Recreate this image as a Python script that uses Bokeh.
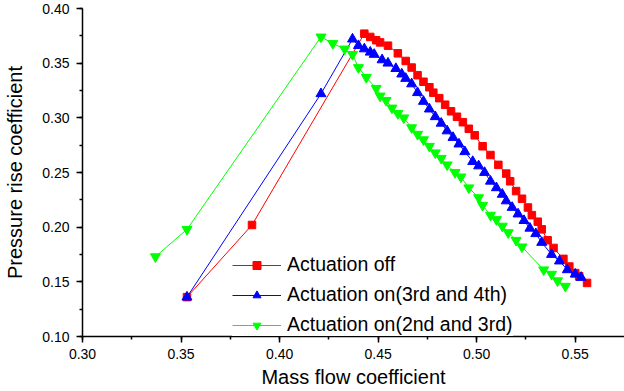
from bokeh.plotting import figure
from bokeh.models import SingleIntervalTicker, NumeralTickFormatter, Range1d
from bokeh.embed import file_html
from bokeh.resources import INLINE

# Actuation off
off_x = [0.353, 0.386, 0.443, 0.446, 0.449, 0.451, 0.455, 0.460, 0.464, 0.467, 0.470,
         0.473, 0.476, 0.478, 0.481, 0.484, 0.487, 0.490, 0.493, 0.496, 0.499,
         0.503, 0.507, 0.511, 0.515, 0.517, 0.520, 0.523, 0.526, 0.528, 0.531,
         0.533, 0.536, 0.539, 0.544, 0.547, 0.550, 0.552, 0.556]
off_y = [0.136, 0.202, 0.377, 0.374, 0.371, 0.369, 0.366, 0.359, 0.352, 0.346, 0.339,
         0.333, 0.328, 0.323, 0.318, 0.312, 0.306, 0.301, 0.296, 0.290, 0.284,
         0.274, 0.266, 0.257, 0.249, 0.242, 0.233, 0.226, 0.218, 0.211, 0.205,
         0.198, 0.188, 0.181, 0.171, 0.164, 0.158, 0.155, 0.149]

# Actuation on (3rd and 4th)
on34_x = [0.353, 0.421, 0.437, 0.440, 0.443, 0.446, 0.448, 0.452, 0.455, 0.459, 0.462,
          0.464, 0.467, 0.470, 0.473, 0.476, 0.479, 0.482, 0.485, 0.488, 0.491,
          0.494, 0.498, 0.501, 0.504, 0.507, 0.510, 0.513, 0.515, 0.518, 0.521,
          0.524, 0.527, 0.530, 0.533, 0.538, 0.542, 0.546, 0.550, 0.553]
on34_y = [0.136, 0.322, 0.372, 0.366, 0.363, 0.360, 0.358, 0.353, 0.350, 0.345, 0.340,
          0.336, 0.331, 0.323, 0.315, 0.308, 0.301, 0.295, 0.288, 0.282, 0.276,
          0.269, 0.260, 0.256, 0.250, 0.242, 0.236, 0.230, 0.224, 0.218, 0.212,
          0.206, 0.199, 0.194, 0.186, 0.175, 0.169, 0.161, 0.157, 0.154]

# Actuation on (2nd and 3rd)
on23_x = [0.337, 0.353, 0.421, 0.427, 0.433, 0.437, 0.440, 0.444, 0.449, 0.451, 0.454,
          0.457, 0.460, 0.463, 0.467, 0.470, 0.473, 0.476, 0.479, 0.482, 0.485,
          0.489, 0.492, 0.496, 0.501, 0.503, 0.507, 0.510, 0.513, 0.516, 0.520,
          0.523, 0.534, 0.538, 0.541, 0.545]
on23_y = [0.173, 0.198, 0.374, 0.368, 0.363, 0.358, 0.346, 0.337, 0.327, 0.320, 0.316,
          0.309, 0.304, 0.300, 0.291, 0.285, 0.280, 0.274, 0.268, 0.263, 0.257,
          0.250, 0.246, 0.236, 0.227, 0.220, 0.211, 0.207, 0.201, 0.195, 0.188,
          0.182, 0.161, 0.157, 0.151, 0.146]

labels = ["Actuation off", "Actuation on(3rd and 4th)", "Actuation on(2nd and 3rd)"]

FONT = "Liberation Sans"

p = figure(width=624, height=391, output_backend="svg", toolbar_location=None,
           x_range=Range1d(0.30, 0.575), y_range=Range1d(0.10, 0.40),
           min_border_left=82, min_border_right=0, min_border_top=8, min_border_bottom=55,
           background_fill_color="white", border_fill_color="white")
p.outline_line_color = None
p.grid.visible = False

p.line(off_x, off_y, color="#ff0000", line_width=1, legend_label=labels[0])
p.scatter(off_x, off_y, marker="square", size=7.5, color="#ff0000", legend_label=labels[0])
p.line(on34_x, on34_y, color="#0000ff", line_width=1, legend_label=labels[1])
p.scatter(on34_x, on34_y, marker="triangle", size=10, color="#0000ff", legend_label=labels[1])
p.line(on23_x, on23_y, color="#00ff00", line_width=1, legend_label=labels[2])
p.scatter(on23_x, on23_y, marker="inverted_triangle", size=10, color="#00ff00", legend_label=labels[2])

for ax in (p.xaxis[0], p.yaxis[0]):
    ax.ticker = SingleIntervalTicker(interval=0.05, num_minor_ticks=2)
    ax.formatter = NumeralTickFormatter(format="0.00")
    ax.axis_line_width = 1.5
    ax.axis_line_color = "black"
    ax.major_tick_in = 0
    ax.major_tick_out = 6
    ax.minor_tick_in = 0
    ax.minor_tick_out = 3
    ax.major_tick_line_width = 1.5
    ax.minor_tick_line_width = 1.5
    ax.major_label_text_font = FONT
    ax.major_label_text_font_size = "14px"
    ax.major_label_text_color = "black"
    ax.axis_label_text_font = FONT
    ax.axis_label_text_font_size = "20px"
    ax.axis_label_text_font_style = "normal"
    ax.axis_label_text_color = "black"

p.xaxis.axis_label = "Mass flow coefficient"
p.yaxis.axis_label = "Pressure rise coefficient"
p.xaxis.major_label_standoff = 6
p.xaxis.axis_label_standoff = 4
p.yaxis.major_label_standoff = 7
p.yaxis.axis_label_standoff = 13

lg = p.legend[0]
lg.location = (150, 0)
lg.background_fill_color = "white"
lg.background_fill_alpha = 1.0
lg.border_line_color = None
lg.label_text_font = FONT
lg.label_text_font_size = "19.5px"
lg.label_text_color = "black"
lg.glyph_width = 49
lg.glyph_height = 20
lg.label_height = 20
lg.label_standoff = 6
lg.spacing = 7
lg.padding = 5
lg.margin = 0

open("out.html", "w").write(file_html(p, INLINE))
